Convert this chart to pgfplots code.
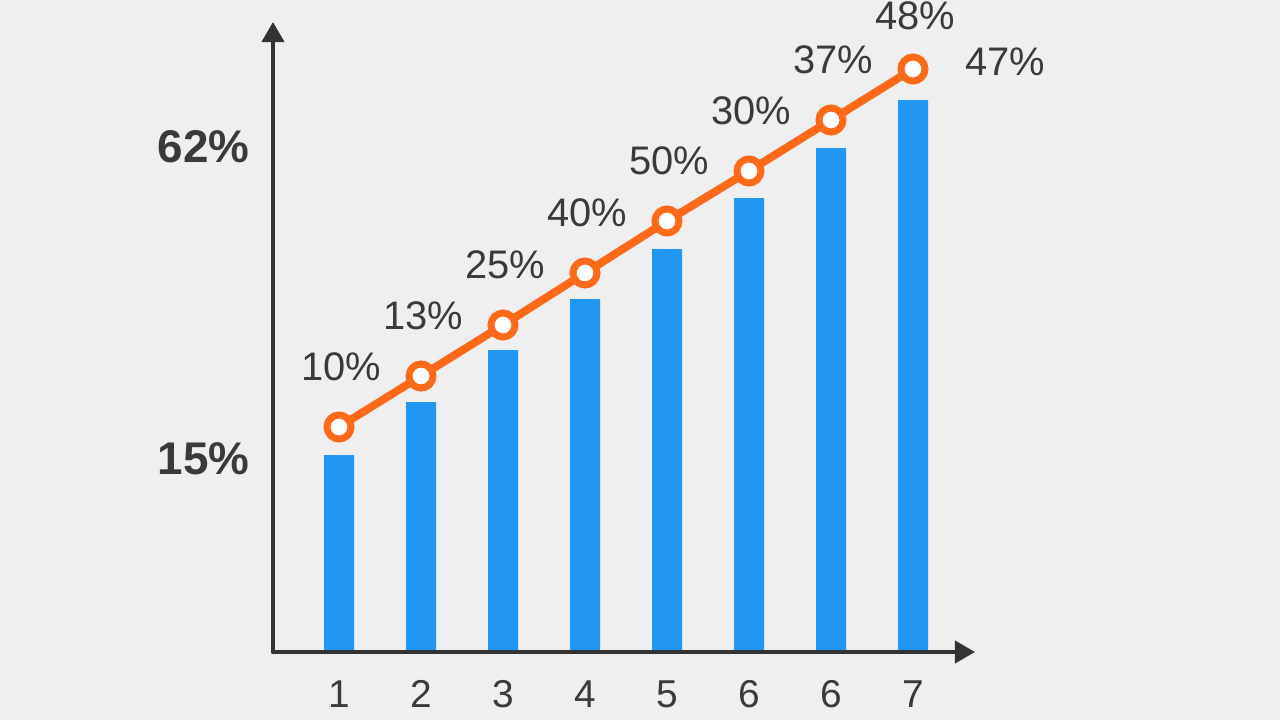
\documentclass[border=0pt]{standalone}
\usepackage{pgfplots}
\pgfplotsset{compat=1.18}
\usepackage{fontspec}
\setmainfont{Liberation Sans}
\usetikzlibrary{arrows.meta}
\definecolor{bg}{HTML}{EFEFEF}
\definecolor{barc}{HTML}{2196F3}
\definecolor{linec}{HTML}{FF6A1A}
\definecolor{textc}{HTML}{3A3A3A}
\definecolor{axisc}{HTML}{333333}
\begin{document}
\begin{tikzpicture}
\useasboundingbox (0,0) rectangle (640bp,360bp);
\clip (0,0) rectangle (640bp,360bp);
\fill[bg] (0,0) rectangle (640bp,360bp);
\begin{axis}[
  at={(136.5bp,34bp)}, anchor=south west,
  scale only axis, width=351bp, height=315bp,
  xmin=0.195, xmax=8.756, ymin=0, ymax=63,
  axis lines=left, axis on top,
  axis line style={draw=axisc, line width=2bp, line cap=round, -{Triangle[width=11bp,length=10bp]}},
  xtick={1,...,8}, xticklabels={1,2,3,4,5,6,6,7},
  ytick={19.3,50.5}, yticklabels={15\%,62\%},
  major tick length=0pt,
  xticklabel style={font=\fontsize{19.5}{22}\selectfont, text=textc, inner sep=0pt, anchor=north, yshift=-14bp},
  yticklabel style={font=\fontsize{23}{27}\selectfont\bfseries, text=textc, inner sep=0pt, anchor=east, xshift=-11.5bp},
  clip=false,
]
\addplot[ybar, bar width=15bp, bar shift=0pt, fill=barc, draw=none]
  coordinates {(1,19.7) (2,25.0) (3,30.2) (4,35.3) (5,40.3) (6,45.4) (7,50.4) (8,55.2)};
\addplot[color=linec, line width=4bp, mark=*, mark size=6bp,
  mark options={fill=white, draw=linec, line width=3.5bp},
  point meta=explicit symbolic, nodes near coords,
  every node near coord/.append style={font=\fontsize{20}{24}\selectfont, text=textc, anchor=center, inner sep=0pt, yshift=30bp, xshift=1bp}]
  coordinates {(1,22.5) [10\%] (2,27.6) [13\%] (3,32.7) [25\%] (4,37.9) [40\%] (5,43.1) [50\%] (6,48.1) [30\%] (7,53.2) [37\%] (8,58.3) [{}]};
\node[font=\fontsize{20}{24}\selectfont, text=textc, inner sep=0pt, xshift=1bp, yshift=26.5bp] at (axis cs:8,58.3) {48\%};
\node[font=\fontsize{20}{24}\selectfont, text=textc, inner sep=0pt, xshift=46bp, yshift=3.5bp] at (axis cs:8,58.3) {47\%};
\end{axis}
\end{tikzpicture}
\end{document}
